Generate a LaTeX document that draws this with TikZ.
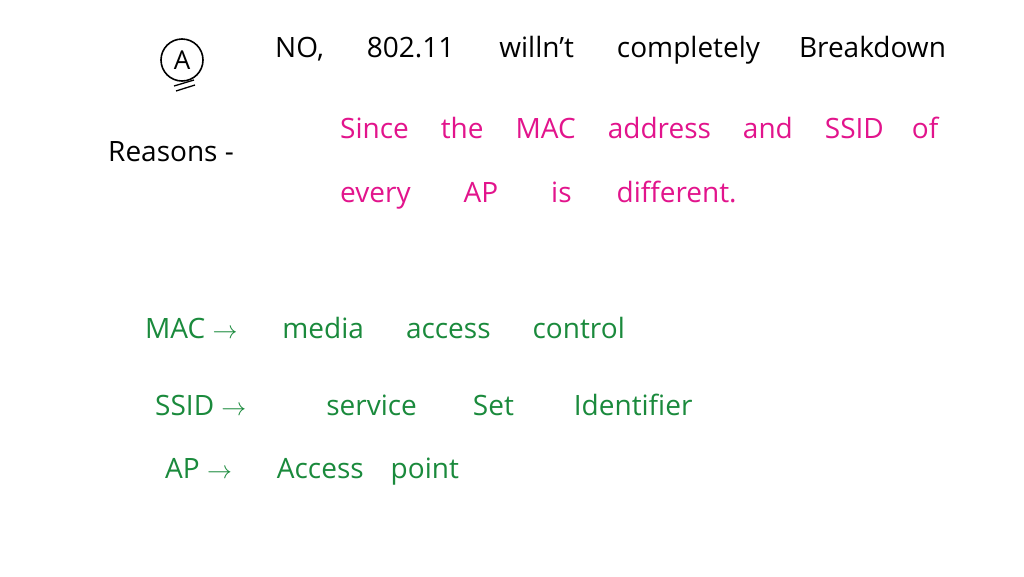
\documentclass[tikz,border=0pt]{standalone}
\usepackage{fontspec}
\setmainfont{Open Sans}
\begin{document}
\begin{tikzpicture}[x=1pt,y=-1pt,
  txt/.style={anchor=west,inner sep=0pt,font=\fontsize{28}{32}\selectfont},
  blk/.style={txt,text=black},
  mag/.style={txt,text=magentaC},
  grn/.style={txt,text=greenC}]
\definecolor{magentaC}{HTML}{E2148C}
\definecolor{greenC}{HTML}{1A8A3C}
\useasboundingbox[fill=white] (0,0) rectangle (1024,576);
\node[circle,draw,line width=1.6pt,minimum size=42pt,inner sep=0pt,font=\fontsize{26}{28}\selectfont] (a) at (182,60) {A};
\draw[line width=1.3pt] (174,86) -- (194,80) (176,91) -- (195,85);
\node[blk] (t1) at (275,50) {NO,\hspace{43pt}802.11\hspace{45pt}willn't\hspace{43pt}completely\hspace{39pt}Breakdown};
\node[blk] (r) at (108,152) {Reasons -};
\node[mag] (m1) at (340,128) {Since\hspace{32pt}the\hspace{32pt}MAC\hspace{32pt}address\hspace{32pt}and\hspace{32pt}SSID\hspace{28pt}of};
\node[mag] (m2) at (340,195) {every\hspace{53pt}AP\hspace{53pt}is\hspace{45pt}different.};
\node[grn] (g1) at (145,328) {MAC $\rightarrow$\hspace{45pt}media\hspace{42pt}access\hspace{42pt}control};
\node[grn] (g2) at (155,405) {SSID $\rightarrow$\hspace{80pt}service\hspace{56pt}Set\hspace{60pt}Identifier};
\node[grn] (g3) at (165,472) {AP $\rightarrow$\hspace{45pt}Access\hspace{27pt}point};
\end{tikzpicture}
\end{document}
